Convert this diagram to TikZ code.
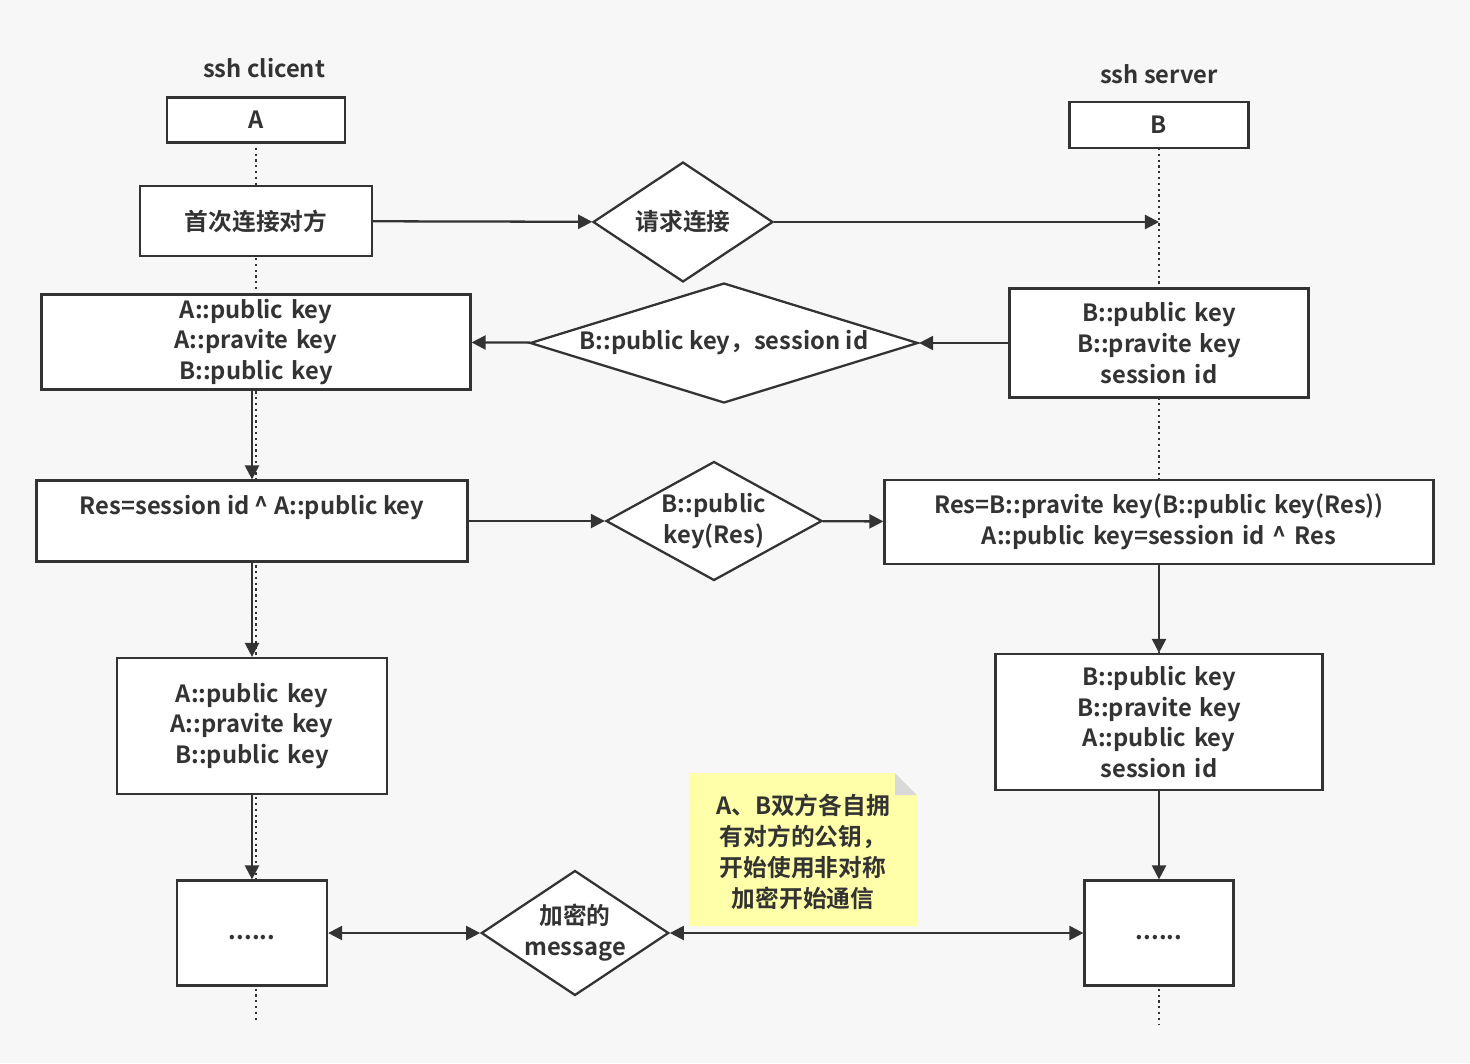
\documentclass[tikz,border=0pt]{standalone}
\usepackage{fontspec}
\setmainfont{Noto Sans CJK SC}[BoldFont={* Bold}]
\usetikzlibrary{shapes.geometric,arrows.meta}
\definecolor{ink}{HTML}{333333}
\definecolor{notey}{HTML}{FFFFAA}
\tikzset{
  txt/.style={font=\fontsize{13.5}{17.6}\selectfont\bfseries, text=ink},
  box/.style={txt, draw=ink, line width=1.3pt, fill=white, align=center, inner sep=0pt},
  dia/.style={txt, draw=ink, line width=1.3pt, diamond, fill=white, align=center, inner sep=0pt},
  flow/.style={draw=ink, line width=1.3pt, -{Triangle[length=8pt,width=8pt]}},
  both/.style={draw=ink, line width=1.3pt, {Triangle[length=8pt,width=8pt]}-{Triangle[length=8pt,width=8pt]}},
  life/.style={draw=ink, line width=1.3pt, dotted},
}
\begin{document}
\begin{tikzpicture}[x=0.02cm,y=-0.02cm]
  \fill[white!97!black] (0,0) rectangle (1470,1063);
  \useasboundingbox (0,0) rectangle (1470,1063);

  % lifelines
  \coordinate (aTop) at (256,142); \coordinate (aEnd) at (256,1020);
  \coordinate (bTop) at (1159,148); \coordinate (bEnd) at (1159,1025);
  \draw[life] (aTop) -- (aEnd);
  \draw[life] (bTop) -- (bEnd);

  % headers
  \node[txt] at (264,68) {ssh clicent};
  \node[txt] at (1159,74) {ssh server};
  \node[box, text width=3.56cm, minimum height=0.9cm] (A) at (256,120) {A};
  \node[box, text width=3.58cm, minimum height=0.92cm] (B) at (1159,125) {B};

  % first contact
  \node[box, text width=4.64cm, minimum height=1.4cm] (first) at (256,221) {首次连接对方};
  \node[dia, minimum width=3.6cm, minimum height=2.4cm, aspect=1.5] (req) at (683,222) {请求连接};
  \coordinate (reqB) at (1159,222);
  \draw[flow] (first) -- (req);
  \draw[flow] (req) -- (reqB);

  % key exchange
  \node[box, text width=8.58cm, minimum height=1.9cm] (akeys) at (256,342) {A::public key\\A::pravite key\\B::public key};
  \node[box, text width=5.98cm, minimum height=2.18cm] (bkeys) at (1159,343) {B::public key\\B::pravite key\\session id};
  \node[dia, minimum width=7.76cm, minimum height=2.4cm, aspect=3.2] (pub) at (724,343) {B::public key，session id};
  \draw[flow] (bkeys) -- (pub);
  \draw[flow] (pub) -- (akeys);

  % Res
  \node[box, text width=8.62cm, minimum height=1.62cm] (resA) at (252,521) {};
  \node[txt] at (252,508) {Res=session id \^{} A::public key};
  \node[dia, minimum width=4.32cm, minimum height=2.38cm, aspect=1.8] (enc) at (714,521) {B::public\\key(Res)};
  \node[box, text width=10.98cm, minimum height=1.68cm] (resB) at (1159,522) {Res=B::pravite key(B::public key(Res))\\A::public key=session id \^{} Res};
  \draw[flow] (akeys.south -| resA.north) -- (resA);
  \draw[flow] (resA) -- (enc);
  \draw[flow] (enc) -- (resB);

  % keys after exchange
  \node[box, text width=5.4cm, minimum height=2.72cm] (akeys2) at (252,726) {A::public key\\A::pravite key\\B::public key};
  \node[box, text width=6.54cm, minimum height=2.72cm] (bkeys2) at (1159,722) {B::public key\\B::pravite key\\A::public key\\session id};
  \draw[flow] (resA) -- (akeys2);
  \draw[flow] (resB) -- (bkeys2);

  % communication
  \node[box, text width=3cm, minimum height=2.1cm] (adots) at (252,933) {};
  \node[box, text width=2.98cm, minimum height=2.1cm] (bdots) at (1159,933) {};
  \node[txt] at (252,938) {......};
  \node[txt] at (1159,938) {......};
  \node[dia, minimum width=3.58cm, minimum height=2.4cm, aspect=1.5] (msg) at (575,933) {加密的\\message};
  \draw[flow] (akeys2) -- (adots);
  \draw[flow] (bkeys2) -- (bdots);
  \draw[both] (adots) -- (msg);
  \draw[both] (msg) -- (bdots);

  % note
  \fill[notey] (689,773) -- (895,773) -- (917,795) -- (917,926) -- (689,926) -- cycle;
  \fill[black!15] (895,773) -- (917,795) -- (895,795) -- cycle;
  \node[txt, align=center] (note) at (803,852) {A、B双方各自拥\\有对方的公钥，\\开始使用非对称\\加密开始通信};
\end{tikzpicture}
\end{document}
